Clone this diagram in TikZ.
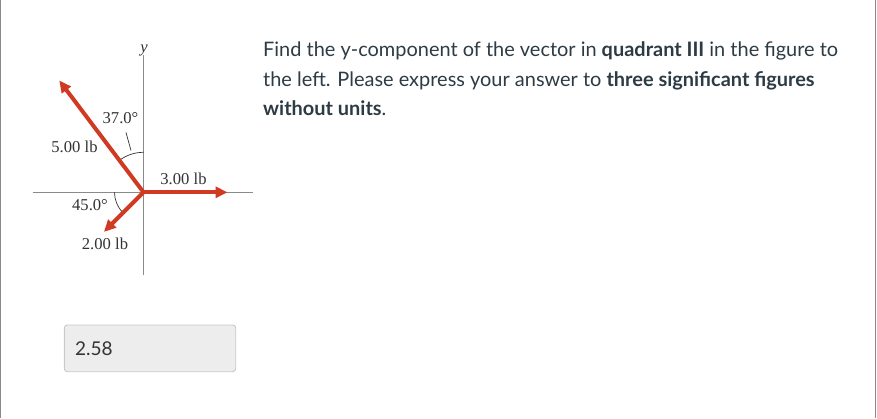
\documentclass[tikz,border=0pt]{standalone}
\usepackage{fontspec}
\setmainfont{Lato}
\newfontfamily\lblfont{Liberation Serif}
\usetikzlibrary{arrows.meta,calc}
\definecolor{vecred}{HTML}{D03A22}
\definecolor{axisgray}{HTML}{8A8A8A}
\definecolor{txtcol}{HTML}{2D3B45}
\definecolor{lblcol}{HTML}{333333}
\definecolor{boxfill}{HTML}{EDEDED}
\definecolor{boxline}{HTML}{C8C8C8}
\tikzset{
  vec/.style={line width=4pt, vecred, -{Triangle[length=12pt,width=11pt]}, shorten <=-1pt},
  axis/.style={axisgray, line width=1.1pt},
  lbl/.style={inner sep=0pt, text=lblcol, font=\lblfont\fontsize{16.6}{19}\selectfont},
  qtext/.style={inner sep=0pt, anchor=base west, text=txtcol, font=\fontsize{19.95}{24}\selectfont},
  anglearc/.style={lblcol, line width=0.7pt}
}
\begin{document}
\begin{tikzpicture}[x=1pt,y=1pt]
\useasboundingbox (0,0) rectangle (877,418);
\fill[white] (0,0) rectangle (877,418);
\draw[axisgray, line width=0.8pt] (0.5,0) -- (0.5,418);
\draw[axisgray, line width=0.8pt] (875.8,0) -- (875.8,418);

% axes
\coordinate (O) at (143.5,225.7);
\coordinate (ytop) at (143.5,363);
\coordinate (ybot) at (143.5,143);
\coordinate (xl) at (32.7,225.7);
\coordinate (xr) at (253.3,225.7);
\draw[axis] (ybot) -- (ytop);
\draw[axis] (xl) -- (xr);

% angle arcs
\draw[anglearc] ([shift={(90:40)}]O) arc[start angle=90, end angle=127, radius=40];
\draw[anglearc] ([shift={(180:29)}]O) arc[start angle=180, end angle=225, radius=29];
\coordinate (p1) at (126,285.5);
\coordinate (p2) at (131,267.5);
\draw[anglearc] (p1) -- (p2);

% vectors
\coordinate (t5) at ($(O)+(127:140)$);
\coordinate (t3) at ($(O)+(0:84)$);
\coordinate (t2) at ($(O)+(225:56)$);
\draw[vec] (O) -- (t5);
\draw[vec] (O) -- (t3);
\draw[vec] (O) -- (t2);

% labels
\node[lbl, font=\lblfont\itshape\fontsize{16.6}{19}\selectfont] (ylab) at (144,367.5) {y};
\node[lbl] (a37) at (120.5,299.5) {37.0°};
\node[lbl] (f5) at (74.5,271.5) {5.00 lb};
\node[lbl] (f3) at (183.5,239) {3.00 lb};
\node[lbl] (a45) at (90,213) {45.0°};
\node[lbl] (f2) at (105,174.5) {2.00 lb};

% question text
\node[qtext] (q1) at (263,361.3) {Find the y-component of the vector in \textbf{quadrant III} in the figure to};
\node[qtext] (q2) at (263,331.8) {the left. Please express your answer to \textbf{three significant figures}};
\node[qtext] (q3) at (263,302.8) {\textbf{without units}.};

% answer box
\draw[boxline, fill=boxfill, line width=0.9pt, rounded corners=3pt] (64.3,46.3) rectangle (235.7,93);
\node[inner sep=0pt, anchor=base west, text=lblcol, font=\fontsize{19}{23}\selectfont] (ans) at (75,63) {2.58};
\end{tikzpicture}
\end{document}
